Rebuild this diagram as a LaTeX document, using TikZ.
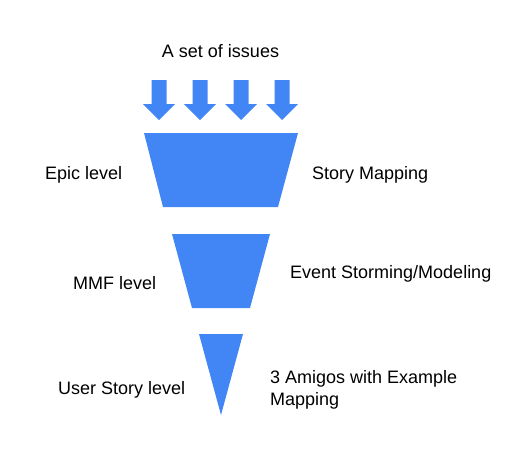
\documentclass[tikz,border=0pt]{standalone}
\usepackage{fontspec}
\setmainfont{Liberation Sans}
\definecolor{funnelblue}{RGB}{66,133,244}

\begin{document}
\begin{tikzpicture}[x=1pt, y=-1pt, font=\fontsize{18}{22}\selectfont,
        caption/.style={inner sep=0pt, anchor=base west}]
            \useasboundingbox (0, 0) rectangle (517, 458);

            \node[caption, anchor=base] (issues) at (220.5, 57) {A set of issues};
            \foreach \x[count=\i] in {159, 200, 241, 282} {
                \fill[funnelblue] (\x-7.5, 80) -- (\x+7.5, 80) -- (\x+7.5, 104) -- (\x+16, 104)
                    -- (\x, 120) -- (\x-16, 104) -- (\x-7.5, 104) -- cycle;
            }

            % funnel
            \fill[funnelblue] (144, 133) -- (298, 133) -- (278, 207) -- (163, 207) -- cycle;
            \fill[funnelblue] (172, 234) -- (270, 234) -- (250, 308) -- (192, 308) -- cycle;
            \fill[funnelblue] (199, 334) -- (243, 334) -- (221, 415) -- cycle;

            \node[caption] (epic) at (45, 179) {Epic level};
            \node[caption] (mmf) at (73, 289) {MMF level};
            \node[caption] (story) at (58, 394) {User Story level};

            \node[caption] (mapping) at (312, 179) {Story Mapping};
            \node[caption] (storming) at (290, 278) {Event Storming/Modeling};
            \node[caption, align=left] (amigos) at (270, 405) {3 Amigos with Example\\Mapping};
        \end{tikzpicture}
\end{document}
